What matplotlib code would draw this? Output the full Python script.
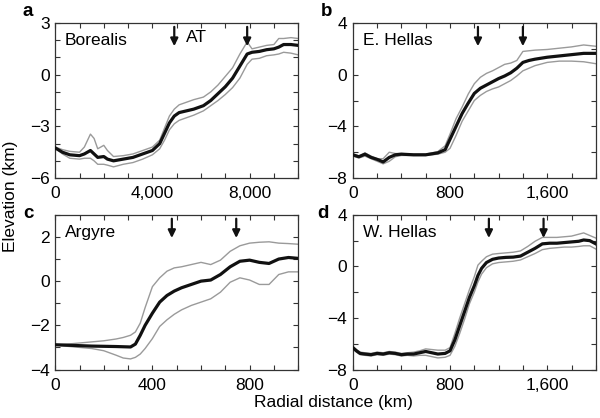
import matplotlib
matplotlib.use("Agg")
import matplotlib.pyplot as plt
from matplotlib.ticker import FuncFormatter, MultipleLocator

plt.rcParams['font.family'] = ['Liberation Sans', 'DejaVu Sans']

# ---------------- data ----------------
# a  Borealis
a_x = [0, 300, 600, 1000, 1200, 1450, 1600, 1750, 2000, 2150, 2400, 2800, 3200, 3600, 4000, 4300, 4500,
       4700, 4900, 5100, 5400, 5700, 6100, 6400, 6700, 7000, 7300, 7600, 7900, 8100, 8400, 8700, 9000,
       9200, 9400, 9700, 10000]
a_mean = [-4.25, -4.5, -4.65, -4.7, -4.6, -4.4, -4.6, -4.8, -4.75, -4.9, -5.0, -4.9, -4.8, -4.6, -4.4,
          -4.0, -3.4, -2.8, -2.4, -2.2, -2.1, -2.0, -1.8, -1.5, -1.1, -0.7, -0.2, 0.5, 1.2, 1.3, 1.35,
          1.45, 1.5, 1.6, 1.75, 1.75, 1.7]
a_upper = [-4.2, -4.35, -4.45, -4.5, -4.2, -3.45, -3.7, -4.3, -4.1, -4.4, -4.75, -4.7, -4.6, -4.4, -4.2,
           -3.8, -3.1, -2.4, -2.0, -1.75, -1.6, -1.45, -1.3, -1.0, -0.6, -0.1, 0.4, 1.2, 1.9, 1.5, 1.6,
           1.7, 1.75, 2.1, 2.1, 2.15, 2.1]
a_lower = [-4.25, -4.6, -4.85, -4.9, -4.85, -4.85, -5.0, -5.2, -5.2, -5.25, -5.35, -5.2, -5.1, -4.9,
           -4.65, -4.3, -3.8, -3.2, -2.85, -2.65, -2.5, -2.35, -2.1, -1.8, -1.5, -1.15, -0.75, -0.2,
           0.6, 0.9, 0.95, 1.1, 1.15, 1.2, 1.3, 1.25, 1.15]
a_arrows = [4900, 7900]

# b  E. Hellas
b_x = [0, 50, 100, 150, 200, 250, 300, 350, 400, 500, 600, 700, 760, 800, 850, 900, 950, 1000, 1050,
       1100, 1150, 1200, 1250, 1300, 1350, 1400, 1450, 1500, 1600, 1700, 1800, 1900, 2000]
b_mean = [-6.2, -6.35, -6.15, -6.4, -6.55, -6.75, -6.4, -6.2, -6.15, -6.2, -6.2, -6.05, -5.8, -5.0,
          -4.0, -3.0, -2.2, -1.45, -1.05, -0.8, -0.55, -0.3, -0.1, 0.15, 0.5, 0.95, 1.1, 1.2, 1.35,
          1.45, 1.55, 1.65, 1.65]
b_upper = [-6.1, -6.3, -6.05, -6.3, -6.5, -6.5, -6.0, -6.1, -6.1, -6.15, -6.15, -5.95, -5.5, -4.6,
           -3.4, -2.5, -1.5, -0.7, -0.2, 0.1, 0.3, 0.55, 0.8, 0.9, 1.1, 1.8, 1.85, 1.9, 1.95, 2.05,
           2.15, 2.3, 2.2]
b_lower = [-6.3, -6.45, -6.3, -6.5, -6.7, -6.9, -6.7, -6.35, -6.25, -6.25, -6.25, -6.15, -6.0, -5.7,
           -4.7, -3.6, -2.8, -2.0, -1.6, -1.3, -1.1, -0.95, -0.7, -0.45, -0.1, 0.3, 0.5, 0.7, 0.95,
           1.05, 1.05, 1.0, 0.85]
b_arrows = [1030, 1400]

# c  Argyre
c_x = [0, 50, 100, 150, 200, 250, 280, 310, 330, 350, 370, 400, 430, 460, 490, 520, 560, 600, 640,
       680, 720, 760, 800, 840, 880, 920, 960, 1000]
c_mean = [-2.88, -2.9, -2.92, -2.94, -2.95, -2.96, -2.97, -2.98, -2.85, -2.45, -2.0, -1.45, -0.95,
          -0.65, -0.45, -0.3, -0.15, 0.0, 0.05, 0.3, 0.65, 0.9, 0.95, 0.85, 0.8, 1.0, 1.07, 1.03]
c_upper = [-2.88, -2.85, -2.8, -2.75, -2.7, -2.62, -2.55, -2.45, -2.3, -1.9, -1.2, -0.25, 0.15, 0.45,
           0.6, 0.65, 0.75, 0.85, 0.75, 0.95, 1.35, 1.6, 1.72, 1.76, 1.78, 1.72, 1.7, 1.67]
c_lower = [-2.88, -2.95, -3.0, -3.05, -3.15, -3.35, -3.48, -3.52, -3.45, -3.3, -3.05, -2.6, -2.05,
           -1.75, -1.5, -1.3, -1.1, -0.95, -0.8, -0.5, -0.05, 0.15, 0.05, -0.15, -0.15, 0.3, 0.42, 0.42]
c_arrows = [480, 745]

# d  W. Hellas
d_x = [0, 30, 60, 100, 150, 200, 250, 300, 350, 400, 450, 500, 550, 600, 650, 700, 760, 800, 840,
       880, 920, 960, 1000, 1030, 1060, 1100, 1150, 1200, 1260, 1320, 1380, 1440, 1500, 1560, 1620,
       1680, 1740, 1800, 1860, 1900, 1950, 2000]
d_mean = [-6.3, -6.55, -6.75, -6.8, -6.85, -6.75, -6.8, -6.7, -6.75, -6.85, -6.8, -6.8, -6.7, -6.6,
          -6.7, -6.8, -6.75, -6.55, -5.7, -4.6, -3.5, -2.4, -1.5, -0.7, -0.15, 0.3, 0.55, 0.65, 0.7,
          0.72, 0.8, 1.1, 1.4, 1.75, 1.8, 1.8, 1.85, 1.9, 1.95, 2.05, 2.0, 1.75]
d_upper = [-6.2, -6.45, -6.65, -6.7, -6.75, -6.65, -6.7, -6.6, -6.65, -6.75, -6.7, -6.65, -6.55,
           -6.4, -6.45, -6.5, -6.5, -6.3, -5.2, -4.0, -2.9, -1.8, -0.8, 0.1, 0.4, 0.75, 0.95, 1.0,
           1.05, 1.1, 1.2, 1.55, 1.95, 2.25, 2.25, 2.25, 2.3, 2.35, 2.5, 2.6, 2.4, 2.2]
d_lower = [-6.4, -6.65, -6.85, -6.9, -6.95, -6.85, -6.9, -6.8, -6.85, -6.95, -6.9, -6.95, -6.9, -6.9,
           -7.0, -7.1, -7.05, -6.9, -6.2, -5.2, -4.1, -2.9, -2.0, -1.2, -0.6, -0.1, 0.2, 0.3, 0.35,
           0.4, 0.5, 0.75, 1.0, 1.3, 1.4, 1.45, 1.5, 1.5, 1.55, 1.6, 1.6, 1.35]
d_arrows = [1120, 1570]

panel_letters = ['a', 'b', 'c', 'd']
panel_names = ['Borealis', 'E. Hellas', 'Argyre', 'W. Hellas']
x_major = [[0, 4000, 8000], [0, 800, 1600], [0, 400, 800], [0, 800, 1600]]
y_major = [[-6, -3, 0, 3], [-8, -4, 0, 4], [-4, -2, 0, 2], [-8, -4, 0, 4]]

# ---------------- figure ----------------
fig = plt.figure(figsize=(6.0, 4.18), dpi=100)
W = 0.405
pos = [[0.092, 0.574, W, 0.371],
       [0.588, 0.574, W, 0.371],
       [0.092, 0.116, W, 0.370],
       [0.588, 0.116, W, 0.370]]
xlims = [(0, 10000), (0, 2000), (0, 1000), (0, 2000)]
ylims = [(-6, 3), (-8, 4), (-4, 3), (-8, 4)]
xminor = [1000, 200, 100, 200]
yminor = [1, 2, 1, 2]
data = [(a_x, a_mean, a_upper, a_lower, a_arrows),
        (b_x, b_mean, b_upper, b_lower, b_arrows),
        (c_x, c_mean, c_upper, c_lower, c_arrows),
        (d_x, d_mean, d_upper, d_lower, d_arrows)]

fmt = FuncFormatter(lambda v, p: f"{int(v):,}".replace('-', '\u2212'))
letter_pos = [(0.038, 0.972), (0.535, 0.972), (0.038, 0.49), (0.528, 0.49)]

for i, (x, m, u, l, arr) in enumerate(data):
    ax = fig.add_axes(pos[i])
    ax.plot(x, u, color='#9a9a9a', lw=1.0, zorder=2)
    ax.plot(x, l, color='#9a9a9a', lw=1.0, zorder=2)
    ax.plot(x, m, color='#111111', lw=2.3, zorder=3)
    ax.set_xlim(*xlims[i])
    ax.set_ylim(*ylims[i])
    ax.set_xticks(x_major[i])
    ax.set_yticks(y_major[i])
    ax.xaxis.set_minor_locator(MultipleLocator(xminor[i]))
    ax.yaxis.set_minor_locator(MultipleLocator(yminor[i]))
    ax.xaxis.set_major_formatter(fmt)
    ax.yaxis.set_major_formatter(fmt)
    ax.tick_params(which='both', direction='in', top=True, right=True,
                   length=3.5, width=0.8, color='#333333', labelsize=12.5)
    ax.tick_params(axis='x', pad=6)
    ax.tick_params(axis='y', pad=4)
    for s in ax.spines.values():
        s.set_linewidth(0.9)
        s.set_color('#333333')
    ax.text(0.04, 0.885, panel_names[i], transform=ax.transAxes, fontsize=12.5,
            ha='left', va='center')
    for xa in arr:
        ax.annotate('', xy=(xa, 0.85), xycoords=('data', 'axes fraction'),
                    xytext=(xa, 0.975), textcoords=('data', 'axes fraction'),
                    arrowprops=dict(arrowstyle='-|>,head_width=0.22,head_length=0.45',
                                    color='#111111', lw=1.6, shrinkA=0, shrinkB=0))
    if i == 0:
        ax.text(5400, 0.905, 'AT', transform=ax.get_xaxis_transform(), fontsize=12.5,
                ha='left', va='center')
    fig.text(letter_pos[i][0], letter_pos[i][1], panel_letters[i], fontsize=13.5,
             fontweight='bold', ha='left', va='center')

fig.text(0.555, 0.036, 'Radial distance (km)', fontsize=12.5, ha='center', va='center')
fig.text(0.018, 0.53, 'Elevation (km)', fontsize=12.5, ha='center', va='center', rotation=90)

fig.savefig('out.png', dpi=100)
